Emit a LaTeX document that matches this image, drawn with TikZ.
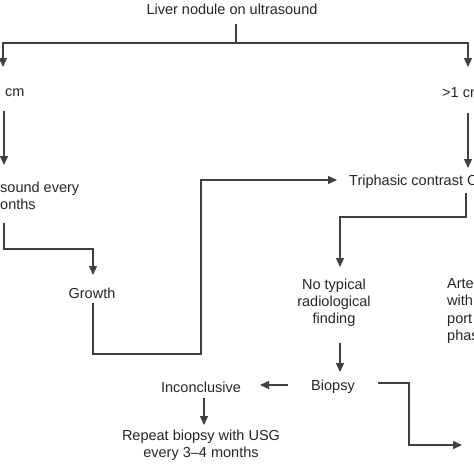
\documentclass[tikz,border=0pt]{standalone}
\usepackage{fontspec}
\setmainfont{Liberation Sans}
\usetikzlibrary{arrows.meta}
\definecolor{ink}{HTML}{262626}
\definecolor{wire}{HTML}{404040}
\tikzset{
  lbl/.style={inner sep=0pt, text=ink, font=\fontsize{14.5}{17.2}\selectfont},
  ln/.style={draw=wire, line width=1.4pt},
  arr/.style={ln, -{Triangle[length=9pt,width=8pt]}}
}
\begin{document}
\begin{tikzpicture}[x=1pt,y=-1pt]
\useasboundingbox (0,0) rectangle (474,474);
\clip (0,0) rectangle (474,474);
\fill[white] (0,0) rectangle (474,474);
% nodes
\node[lbl] (top) at (232,9) {Liver nodule on ultrasound};
\node[lbl, anchor=west] (lt) at (5,93) {cm};
\node[lbl, anchor=west] (rt) at (442,93) {>1 cm};
\node[lbl, anchor=west, align=left] (us) at (0,196) {sound every\\onths};
\node[lbl] (growth) at (92,293) {Growth};
\node[lbl, anchor=west] (tri) at (349,182) {Triphasic contrast C};
\node[lbl, align=center] (nt) at (334,303) {No typical\\radiological\\finding};
\node[lbl, anchor=west, align=left] (art) at (447,311) {Arte\\with\\port\\phas};
\node[lbl] (bio) at (333,387) {Biopsy};
\node[lbl] (inc) at (201,387) {Inconclusive};
\node[lbl, align=center] (rep) at (201,445) {Repeat biopsy with USG\\every 3–4 months};
% junction coordinates
\coordinate (t0) at (236,24);
\coordinate (j1) at (236,43);
\coordinate (aL) at (3,67);
\coordinate (aR) at (468,67);
\coordinate (l0) at (4,111);
\coordinate (l1) at (4,165);
\coordinate (r0) at (468,113);
\coordinate (r1) at (468,168);
\coordinate (u0) at (4,223);
\coordinate (u1) at (4,249);
\coordinate (g0) at (93,275);
\coordinate (g1) at (93,303);
\coordinate (g2) at (93,354);
\coordinate (g3) at (201,354);
\coordinate (g4) at (201,180);
\coordinate (g5) at (337,180);
\coordinate (c0) at (466,193);
\coordinate (c1) at (466,217);
\coordinate (c2) at (340,267);
\coordinate (n0) at (340,343);
\coordinate (n1) at (340,372);
\coordinate (b0) at (288,385);
\coordinate (b1) at (260,385);
\coordinate (i0) at (204,398);
\coordinate (i1) at (204,425);
\coordinate (b2) at (378,383);
\coordinate (b3) at (409,383);
\coordinate (b4) at (409,445);
\coordinate (b5) at (462,445);
% connectors
\draw[ln] (t0) -- (j1);
\draw[arr] (j1) -| (aL);
\draw[arr] (j1) -| (aR);
\draw[arr] (l0) -- (l1);
\draw[arr] (r0) -- (r1);
\draw[arr] (u0) -- (u1) -| (g0);
\draw[arr] (g1) -- (g2) -- (g3) -- (g4) -- (g5);
\draw[arr] (c0) -- (c1) -| (c2);
\draw[arr] (n0) -- (n1);
\draw[arr] (b0) -- (b1);
\draw[arr] (i0) -- (i1);
\draw[arr] (b2) -- (b3) -- (b4) -- (b5);
\end{tikzpicture}
\end{document}
